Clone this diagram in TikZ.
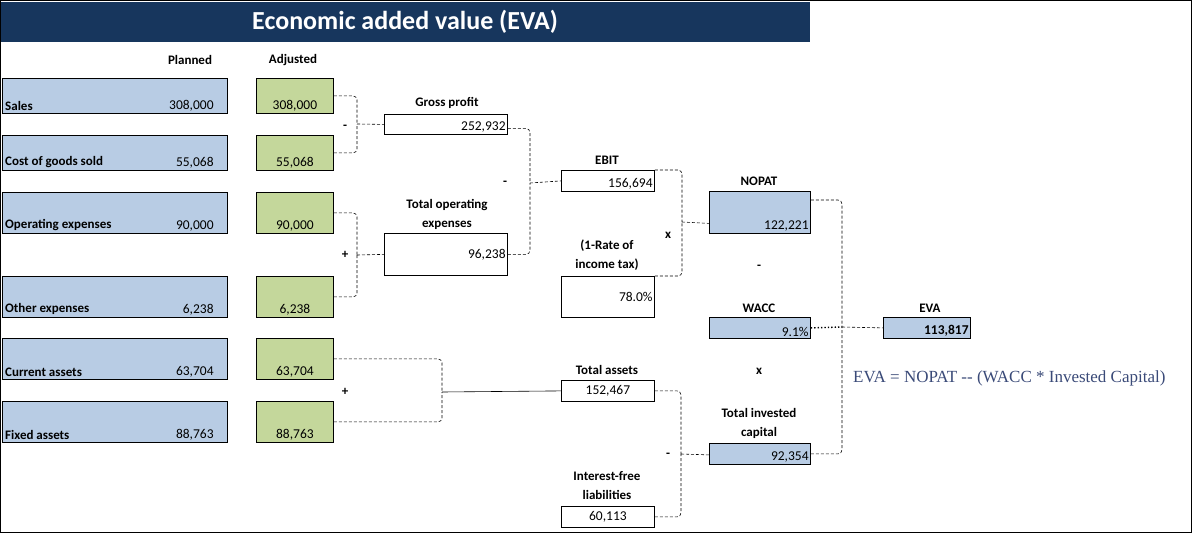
\documentclass[tikz,border=0pt]{standalone}
\usepackage{fontspec}
\setmainfont{Carlito}
\newfontfamily\frm{Liberation Serif}
\definecolor{navy}{HTML}{17365D}
\definecolor{lblue}{HTML}{B8CCE4}
\definecolor{lgreen}{HTML}{C4D79B}
\definecolor{fcol}{HTML}{3A4A78}
\newcommand{\bx}[6]{\node[draw=black,line width=0.8pt,fill=#6,inner sep=0pt,anchor=north west,minimum width={(#4-#2)*1pt},minimum height={(#5-#3)*1pt}] (#1) at (#2,#3) {};}
\begin{document}
\begin{tikzpicture}[x=1pt,y=-1pt,
  lab/.style={font=\fontsize{13}{15}\selectfont\bfseries,align=center,inner sep=0pt},
  num/.style={font=\fontsize{13.5}{15}\selectfont,inner sep=2pt},
  conn/.style={dashed,line width=0.6pt,dash pattern=on 3pt off 2pt},
  op/.style={font=\fontsize{13}{15}\selectfont\bfseries,inner sep=0pt}]
\useasboundingbox (0,0) rectangle (1192,533);
\draw[line width=0.8pt] (0.5,0.5) rectangle (1191.5,532.5);
\fill[navy] (1,2) rectangle (810,42);
\node[font=\fontsize{26}{30}\selectfont\bfseries,text=white] (title) at (405,22) {Economic added value (EVA)};
\node[lab] (hp) at (190,60) {Planned};
\node[lab] (ha) at (293,60) {Adjusted};
% planned / adjusted
\bx{p1}{2}{78}{227}{113}{lblue}\bx{g1}{256}{78}{333}{113}{lgreen}
\bx{p2}{2}{135}{227}{170}{lblue}\bx{g2}{256}{135}{333}{170}{lgreen}
\bx{p3}{2}{192}{227}{233}{lblue}\bx{g3}{256}{192}{333}{233}{lgreen}
\bx{p4}{2}{276}{227}{317}{lblue}\bx{g4}{256}{276}{333}{317}{lgreen}
\bx{p5}{2}{338}{227}{379}{lblue}\bx{g5}{256}{338}{333}{379}{lgreen}
\bx{p6}{2}{401}{227}{442}{lblue}\bx{g6}{256}{401}{333}{442}{lgreen}
\foreach \n/\t/\v in {1/Sales/308{,}000,2/Cost of goods sold/55{,}068,3/Operating expenses/90{,}000,4/Other expenses/6{,}238,5/Current assets/63{,}704,6/Fixed assets/88{,}763}{
  \node[lab,anchor=south west] (pl\n) at ([shift={(3,-3)}]p\n.south west) {\t};
  \node[num,anchor=south east] (pv\n) at ([shift={(-12,0)}]p\n.south east) {\v};
  \node[num,anchor=south] (gv\n) at (g\n.south) {\v};
}
% middle
\bx{gp}{384}{114}{507}{134}{white}
\node[lab] (gpl) at (447,103) {Gross profit};
\node[num,anchor=south east] (gpv) at (gp.south east) {252,932};
\bx{toe}{384}{233}{507}{275}{white}
\node[lab] (toel) at (447,214) {Total operating\\[4pt]expenses};
\node[num,anchor=east] (toev) at (toe.east) {96,238};
\bx{ebit}{561}{170}{654}{191}{white}
\node[lab] (ebitl) at (607,160) {EBIT};
\node[num,anchor=south east] (ebitv) at (ebit.south east) {156,694};
\bx{tax}{561}{276}{654}{317}{white}
\node[lab] (taxl) at (607,255) {(1-Rate of\\[4pt]income tax)};
\node[num,anchor=east] (taxv) at (tax.east) {78.0\%};
\bx{ta}{561}{380}{654}{401}{white}
\node[lab] (tal) at (607,370) {Total assets};
\node[num] (tav) at (ta.center) {152,467};
\bx{ifl}{561}{506}{654}{527}{white}
\node[lab] (ifll) at (607,486) {Interest-free\\[4pt]liabilities};
\node[num] (iflv) at (ifl.center) {60,113};
% right
\bx{nopat}{709}{191}{810}{233}{lblue}
\node[lab] (nopatl) at (759,181) {NOPAT};
\node[num,anchor=south east] (nopatv) at (nopat.south east) {122,221};
\bx{wacc}{709}{317}{810}{338}{lblue}
\node[lab] (waccl) at (759,308) {WACC};
\node[num,anchor=south east] (waccv) at (wacc.south east) {9.1\%};
\bx{tic}{709}{443}{810}{464}{lblue}
\node[lab] (ticl) at (759,423) {Total invested\\[4pt]capital};
\node[num,anchor=south east] (ticv) at (tic.south east) {92,354};
\bx{eva}{883}{317}{970}{338}{lblue}
\node[lab] (eval) at (930,308) {EVA};
\node[num,anchor=south east,font=\fontsize{13.5}{15}\selectfont\bfseries] (evav) at (eva.south east) {113,817};
\node[anchor=west,text=fcol,font=\frm\fontsize{17}{20}\selectfont,inner sep=0pt] (formula) at (853,378) {EVA = NOPAT -- (WACC * Invested Capital)};
% operators
\node[op] at (345,127) {-};
\node[op] at (345,255) {+};
\node[op] at (345,392) {+};
\node[op] at (505,183) {-};
\node[op] at (668,235) {x};
\node[op] at (759,267) {-};
\node[op] at (759,371) {x};
\node[op] at (668,455) {-};
% connectors
\coordinate (k1) at (357,124); \coordinate (k2) at (357,255);
\coordinate (k3) at (442,392); \coordinate (k4) at (530,183);
\coordinate (k5) at (682,222); \coordinate (k6) at (681,454);
\coordinate (k7) at (842,327);
\begin{scope}[conn,rounded corners=4pt]
\draw (g1.east) -| (k1); \draw (g2.east) -| (k1); \draw (k1) -- (gp.west);
\draw (g3.east) -| (k2); \draw (g4.east) -| (k2); \draw (k2) -- (toe.west);
\draw (g5.east) -| (k3); \draw (g6.east) -| (k3);
\draw ([yshift=-4pt]gp.east) -| (k4); \draw (toe.east) -| (k4); \draw (k4) -- (ebit.west);
\draw (ebit.north east) -| (k5); \draw (tax.north east) -| (k5); \draw (k5) -- ([yshift=-11pt]nopat.west);
\draw (ta.east) -| (k6); \draw (ifl.east) -| (k6); \draw (k6) -- ([yshift=-1pt]tic.west);
\draw ([yshift=-9pt]nopat.north east) -| (k7); \draw (tic.east) -| (k7); \draw (k7) -- (eva.west);
\end{scope}
\draw[line width=0.6pt] (k3) -- (ta.west);
\draw[dotted,line width=1.4pt] (wacc.east) -- (k7);
\end{tikzpicture}
\end{document}
